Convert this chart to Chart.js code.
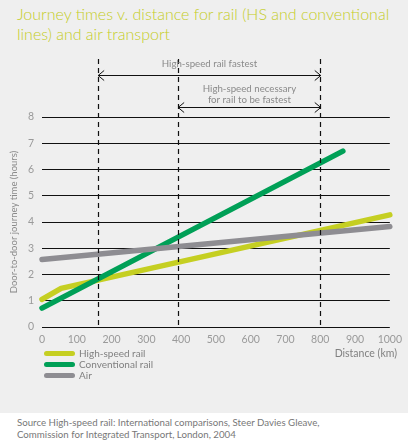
<!DOCTYPE html>
<html><head><meta charset="utf-8">
<script src="https://cdn.jsdelivr.net/npm/chart.js@4/dist/chart.umd.min.js"></script>
<style>
html,body{margin:0;padding:0;background:#fff;}
#wrap{position:relative;width:408px;height:444px;overflow:hidden;font-family:Lato,"Open Sans",sans-serif;}
#panel{position:absolute;left:0;top:0;width:408px;height:413px;background:#efefef;}
#title{position:absolute;left:17px;top:4px;font-size:16px;font-weight:300;line-height:19.5px;color:#c4cd25;white-space:nowrap;}
#cv{position:absolute;left:0;top:0;}
#legend{position:absolute;left:44px;top:348px;font-size:10px;color:#808080;}
.li{height:11px;line-height:11px;display:flex;align-items:center;white-space:nowrap;}
.sw{width:31px;height:5px;border-radius:3px;margin-right:4px;}
#xt{position:absolute;right:11px;top:348px;font-size:10.5px;color:#808080;line-height:11px;}
#src{position:absolute;left:17px;top:416px;font-size:9.7px;line-height:12px;color:#777;white-space:nowrap;}
</style></head>
<body>
<div id="wrap">
<div id="panel"></div>
<div id="title">Journey times v. distance for rail (HS and conventional<br>lines) and air transport</div>
<canvas id="cv" width="408" height="413"></canvas>
<div id="legend"></div>
<div id="xt">Distance (km)</div>
<div id="src">Source High-speed rail: International comparisons, Steer Davies Gleave,<br>Commission for Integrated Transport, London, 2004</div>
</div>
<script>
// ---- data ----
const seriesNames = ['High-speed rail', 'Conventional rail', 'Air'];
const hsDistance = [0, 55, 1000];
const hsHours = [1.05, 1.47, 4.27];
const convDistance = [0, 865];
const convHours = [0.72, 6.7];
const airDistance = [0, 1000];
const airHours = [2.57, 3.83];
const xTicks = [0, 100, 200, 300, 400, 500, 600, 700, 800, 900, 1000];
const yTicks = [0, 1, 2, 3, 4, 5, 6, 7, 8];
const dividerKm = [160, 390, 800];
const spanFrom = [160, 390];
const spanTo = [800, 800];
const spanLabels = [['High-speed rail fastest'], ['High-speed necessary', 'for rail to be fastest']];

const colors = ['#c5cf22', '#00a057', '#8e8d92'];
const pts = (xs, ys) => xs.map((x, i) => ({x, y: ys[i]}));

const annot = {
  id: 'annot',
  afterDraw(chart) {
    const {ctx, scales: {x, y}} = chart;
    const bottom = y.getPixelForValue(0);
    ctx.save();
    ctx.strokeStyle = '#111';
    ctx.lineWidth = 1.2;
    ctx.setLineDash([5, 4]);
    dividerKm.forEach(k => {
      const px = Math.round(x.getPixelForValue(k)) + 0.5;
      ctx.beginPath(); ctx.moveTo(px, 59); ctx.lineTo(px, bottom); ctx.stroke();
    });
    ctx.setLineDash([]);
    const arrowY = [75.5, 107.5];
    const textY = [[63.5], [89, 100]];
    spanFrom.forEach((f, i) => {
      const x1 = x.getPixelForValue(f) + 0.5, x2 = x.getPixelForValue(spanTo[i]) + 0.5;
      const ay = arrowY[i];
      ctx.lineWidth = 1;
      ctx.beginPath(); ctx.moveTo(x1, ay); ctx.lineTo(x2, ay); ctx.stroke();
      ctx.beginPath(); ctx.moveTo(x1 + 6, ay - 5); ctx.lineTo(x1, ay); ctx.lineTo(x1 + 6, ay + 5); ctx.stroke();
      ctx.beginPath(); ctx.moveTo(x2 - 6, ay - 5); ctx.lineTo(x2, ay); ctx.lineTo(x2 - 6, ay + 5); ctx.stroke();
      ctx.fillStyle = '#8a8a8a';
      ctx.font = '9.7px Lato, sans-serif';
      ctx.textAlign = 'center'; ctx.textBaseline = 'middle';
      const cx = (x1 + x2) / 2;
      spanLabels[i].forEach((t, j) => ctx.fillText(t, cx, textY[i][j]));
    });
    ctx.restore();
  }
};

const chart = new Chart(document.getElementById('cv'), {
  type: 'line',
  data: {
    datasets: [
      {label: seriesNames[0], data: pts(hsDistance, hsHours), borderColor: colors[0]},
      {label: seriesNames[1], data: pts(convDistance, convHours), borderColor: colors[1]},
      {label: seriesNames[2], data: pts(airDistance, airHours), borderColor: colors[2]}
    ].reverse().map(d => Object.assign(d, {borderWidth: 5.5, pointRadius: 0, borderCapStyle: 'round', borderJoinStyle: 'round', tension: 0, fill: false, clip: 8}))
  },
  options: {
    responsive: false,
    animation: false,
    events: [],
    layout: {padding: {top: 117, right: 18, bottom: 60, left: 0}},
    plugins: {legend: {display: false}, tooltip: {enabled: false}},
    scales: {
      x: {
        type: 'linear', min: 0, max: 1000,
        afterBuildTicks: s => { s.ticks = xTicks.map(v => ({value: v})); },
        grid: {display: false, drawTicks: false},
        border: {display: false},
        ticks: {color: '#9a9a9a', font: {family: 'Lato', size: 10.5}, padding: 6, maxRotation: 0, autoSkip: false, callback: v => String(v)},
        afterFit: s => { s.height = 26; }
      },
      y: {
        min: 0, max: 8,
        afterBuildTicks: s => { s.ticks = yTicks.map(v => ({value: v})); },
        grid: {color: '#111', lineWidth: 1, drawTicks: false},
        border: {display: false},
        ticks: {color: '#9a9a9a', font: {family: 'Lato', size: 10.5}, padding: 8, callback: v => String(v)},
        title: {display: true, text: 'Door-to-door journey time (hours)', color: '#8a8a8a', font: {family: 'Lato', size: 9.5}, padding: {top: 8, bottom: 0}},
        afterFit: s => { s.width = 42; }
      }
    }
  },
  plugins: [annot]
});

const lg = document.getElementById('legend');
seriesNames.forEach((n, i) => {
  const row = document.createElement('div'); row.className = 'li';
  const sw = document.createElement('div'); sw.className = 'sw'; sw.style.background = colors[i];
  const tx = document.createElement('span'); tx.textContent = n;
  row.appendChild(sw); row.appendChild(tx); lg.appendChild(row);
});
</script>
</body></html>
